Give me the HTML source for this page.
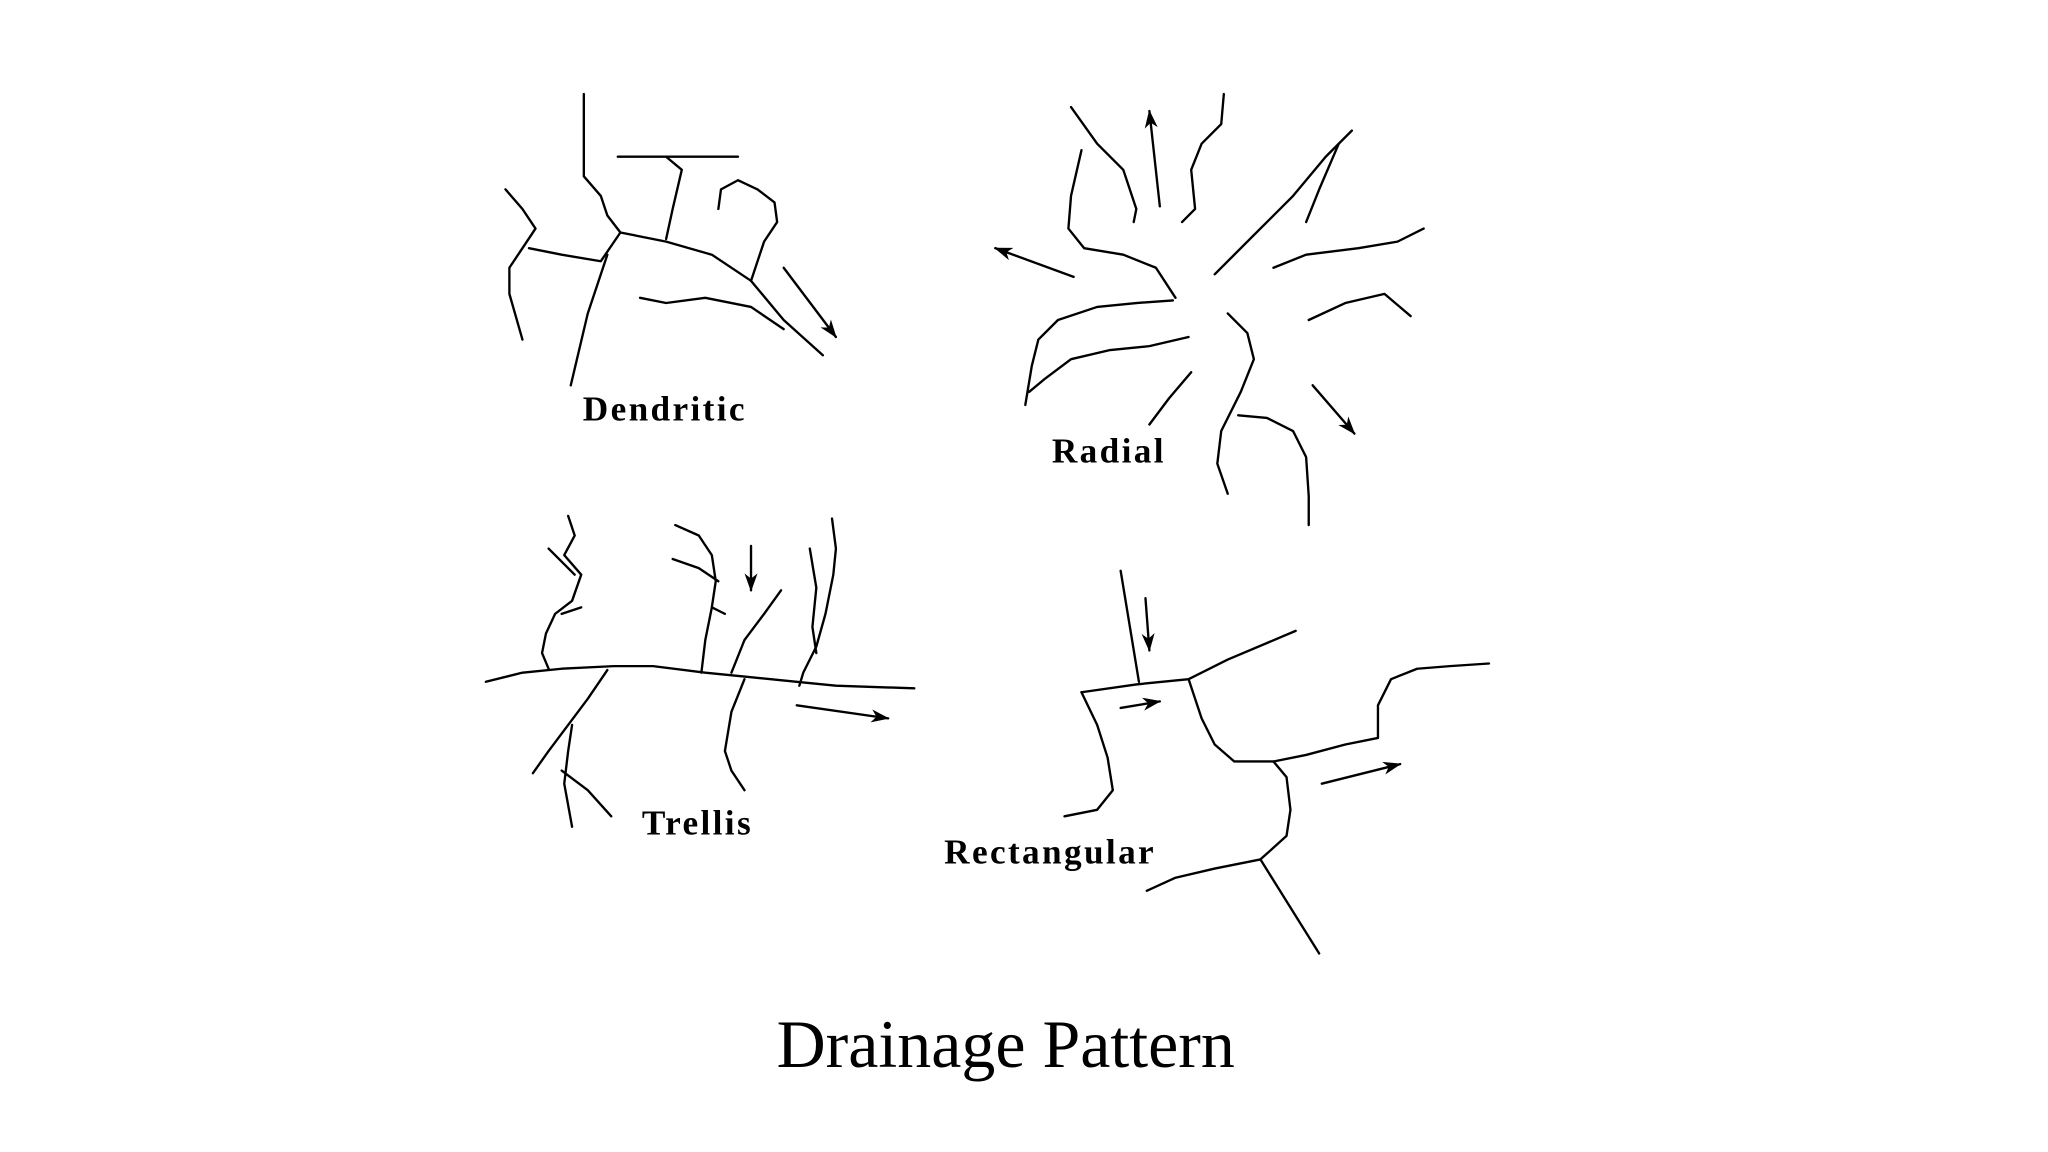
<!DOCTYPE html>
<html><head><meta charset="utf-8"><style>html,body{margin:0;padding:0;background:#fff;width:2048px;height:1152px;overflow:hidden}svg{display:block}</style></head><body>
<svg width="2048" height="1152" viewBox="0 0 1568 882" preserveAspectRatio="none" xmlns="http://www.w3.org/2000/svg">
<defs>
<marker id="b" viewBox="0 0 14 10" markerWidth="14" markerHeight="10" refX="13" refY="5" orient="auto" markerUnits="userSpaceOnUse"><path d="M0,0 L14,5 L0,10 L4,5 Z" fill="#000"/></marker></defs>
<g fill="none" stroke="#000" stroke-width="1.8" stroke-linejoin="round" stroke-linecap="round">
<!-- Dendritic -->
<polyline points="447,72 447,135 460,150 465,165 475,178"/>
<polyline points="473,120 565,120"/>
<polyline points="510,120 522,130 515,160 510,183"/>
<polyline points="475,178 510,185 545,195 575,215 600,245 630,272"/>
<polyline points="575,215 585,185 595,170 593,155 580,145 565,138 552,145 550,160"/>
<polyline points="387,145 400,160 410,175 400,190 390,205 390,225 400,260"/>
<polyline points="405,190 430,195 460,200 475,178"/>
<polyline points="465,195 450,240 437,295"/>
<polyline points="490,228 510,232 540,228 575,235 600,252"/>
<line x1="600" y1="205" x2="640" y2="258" marker-end="url(#b)"/>
<!-- Radial -->
<polyline points="820,82 840,110 860,130 870,160 868,170"/>
<line x1="888" y1="158" x2="880" y2="85" marker-end="url(#b)"/>
<polyline points="937,72 935,95 920,110 912,130 915,160 905,170"/>
<polyline points="828,115 820,150 818,175 830,190 860,195 885,205 900,228"/>
<line x1="822" y1="212" x2="762" y2="190" marker-end="url(#b)"/>
<polyline points="1035,100 1015,120 990,150 960,180 930,210"/>
<polyline points="1025,110 1010,145 1000,170"/>
<polyline points="975,205 1000,195 1040,190 1070,185 1090,175"/>
<polyline points="1002,245 1030,232 1060,225 1080,242"/>
<polyline points="898,230 870,232 840,235 810,245 795,260 790,280 785,310"/>
<polyline points="910,258 880,265 850,268 820,275 800,290 788,300"/>
<polyline points="940,240 955,255 960,275 950,300 935,330 932,355 940,378"/>
<polyline points="912,285 895,305 880,325"/>
<polyline points="948,318 970,320 990,330 1000,350 1002,380 1002,402"/>
<line x1="1005" y1="295" x2="1037" y2="332" marker-end="url(#b)"/>
<!-- Trellis -->
<polyline points="372,522 400,515 430,512 470,510 500,510 540,515 570,518 610,522 640,525 700,527"/>
<polyline points="435,395 440,410 432,425 445,440 438,460 425,470 418,485 415,500 420,512"/>
<polyline points="420,420 440,440"/>
<polyline points="445,465 430,470"/>
<polyline points="517,402 535,410 545,425 548,445 545,465 540,490 537,515"/>
<polyline points="515,428 535,435 550,445"/>
<polyline points="545,465 555,470"/>
<line x1="575" y1="418" x2="575" y2="452" marker-end="url(#b)"/>
<polyline points="598,452 585,470 570,490 560,515"/>
<polyline points="637,397 640,420 638,440 632,470 625,495 615,515 612,525"/>
<polyline points="620,420 625,450 622,480 625,500"/>
<line x1="610" y1="540" x2="680" y2="550" marker-end="url(#b)"/>
<polyline points="465,513 450,535 435,555 420,575 408,592"/>
<polyline points="438,555 435,575 432,600 438,633"/>
<polyline points="430,590 450,605 468,625"/>
<polyline points="570,520 560,545 555,575 560,590 570,605"/>
<!-- Rectangular -->
<polyline points="858,437 872,522"/>
<line x1="877" y1="458" x2="880" y2="498" marker-end="url(#b)"/>
<polyline points="828,530 870,524 910,520 940,505 992,483"/>
<polyline points="910,520 920,550 930,570 945,583 975,583 1000,578 1030,570 1055,565 1055,540 1065,520 1085,512 1110,510 1140,508"/>
<polyline points="828,530 840,555 848,580 852,605 840,620 815,625"/>
<line x1="858" y1="542" x2="888" y2="537" marker-end="url(#b)"/>
<polyline points="975,583 985,595 988,620 985,640 965,658 930,665 900,672 878,682"/>
<polyline points="965,658 985,690 1010,730"/>
<line x1="1012" y1="600" x2="1072" y2="585" marker-end="url(#b)"/>
</g>
<g font-family="Liberation Serif, serif" font-weight="bold" font-size="27" letter-spacing="1.8" text-anchor="middle" fill="#000">
<text x="509" y="322">Dendritic</text>
<text x="849" y="354">Radial</text>
<text x="534" y="639">Trellis</text>
<text x="804" y="661">Rectangular</text>
</g>
<text x="770" y="817" font-family="Liberation Serif, serif" font-size="52" text-anchor="middle" fill="#000">Drainage Pattern</text>
</svg>
</body></html>
